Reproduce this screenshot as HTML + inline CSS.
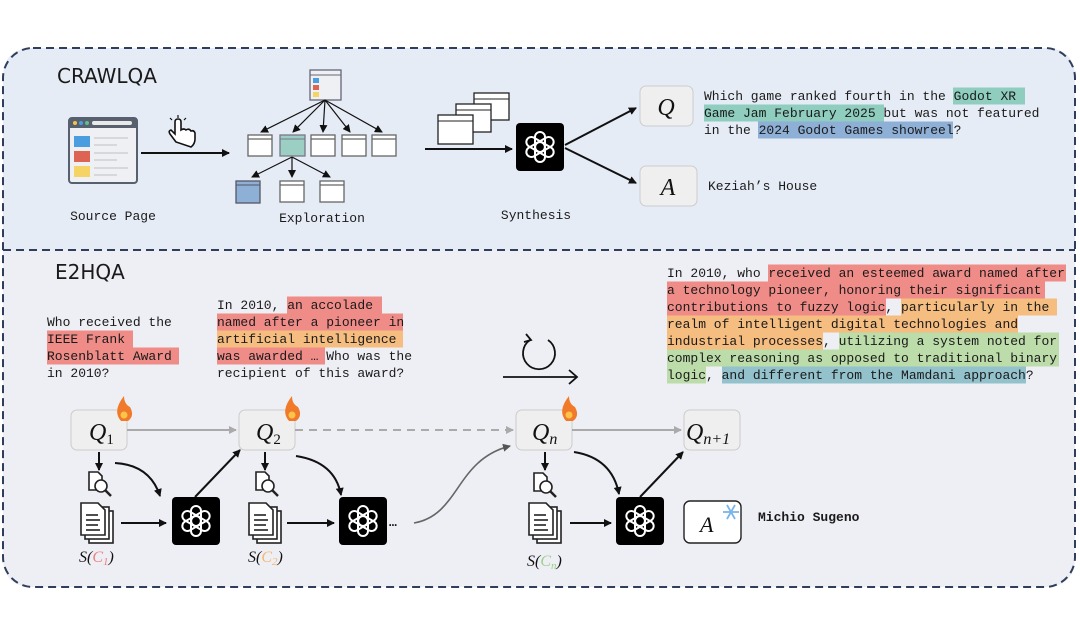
<!DOCTYPE html>
<html><head><meta charset="utf-8"><style>
html,body{margin:0;padding:0;background:#fff;}
svg{display:block}
.m{font-family:"Liberation Mono",monospace;font-size:13px;fill:#1a1a1a}
.l{font-family:"DejaVu Sans","Liberation Sans",sans-serif;fill:#1a1a1a}
.q{font-family:"Liberation Serif",serif;font-style:italic;fill:#111}
</style></head><body>
<svg width="1080" height="635" viewBox="0 0 1080 635" xmlns="http://www.w3.org/2000/svg">
<defs>
<marker id="ah" markerWidth="8" markerHeight="8" refX="7" refY="4" orient="auto" markerUnits="userSpaceOnUse"><path d="M0,0 L8,4 L0,8z" fill="#111"/></marker>
<marker id="ag" markerWidth="8" markerHeight="8" refX="7" refY="4" orient="auto" markerUnits="userSpaceOnUse"><path d="M0,0 L8,4 L0,8z" fill="#aaa"/></marker>
<marker id="ad" markerWidth="8" markerHeight="8" refX="7" refY="4" orient="auto" markerUnits="userSpaceOnUse"><path d="M0,0 L8,4 L0,8z" fill="#555"/></marker>
<g id="oai">
<rect x="0" y="0" width="48" height="48" rx="4" fill="#000"/>
<g transform="translate(24,24)" fill="none" stroke="#fff" stroke-width="2">
<rect x="-5" y="-15" width="10" height="20" rx="5"/>
<rect x="-5" y="-15" width="10" height="20" rx="5" transform="rotate(60)"/>
<rect x="-5" y="-15" width="10" height="20" rx="5" transform="rotate(120)"/>
<rect x="-5" y="-15" width="10" height="20" rx="5" transform="rotate(180)"/>
<rect x="-5" y="-15" width="10" height="20" rx="5" transform="rotate(240)"/>
<rect x="-5" y="-15" width="10" height="20" rx="5" transform="rotate(300)"/>
</g></g>
<g id="win"><rect x="0" y="0" width="24" height="21" fill="#fff" stroke="#666" stroke-width="1.3"/><line x1="0" y1="4" x2="24" y2="4" stroke="#666" stroke-width="1.3"/></g>
<g id="docs" fill="#fff" stroke="#222" stroke-width="1.6">
<rect x="8" y="8" width="24" height="32"/><rect x="4" y="4" width="24" height="32"/><path d="M0,0 h17 l7,7 v25 h-24z"/>
<line x1="5" y1="12" x2="17" y2="12"/><line x1="5" y1="17" x2="19" y2="17"/><line x1="5" y1="22" x2="17" y2="22"/><line x1="5" y1="27" x2="19" y2="27"/></g>
<g id="srch" fill="none" stroke="#222" stroke-width="1.6">
<path d="M0,0 h9 l4,4 v14 h-13z" fill="#fff"/><circle cx="12" cy="14" r="6" fill="#fff"/><line x1="16" y1="18" x2="22" y2="24" stroke-width="2.5"/></g>
</defs>

<path d="M33,48 H1045 Q1075,48 1075,78 V250 H3 V78 Q3,48 33,48z" fill="#e6ecf6"/>
<path d="M3,250 H1075 V557 Q1075,587 1045,587 H33 Q3,587 3,557z" fill="#eeeef5"/>
<rect x="3" y="48" width="1072" height="539" rx="30" fill="none" stroke="#2f3e5c" stroke-width="2" stroke-dasharray="8,5"/>
<line x1="3" y1="250" x2="1075" y2="250" stroke="#2f3e5c" stroke-width="2" stroke-dasharray="8,5"/>

<text x="57" y="83" class="l" font-size="20">CRAWLQA</text>
<text x="55" y="279" class="l" font-size="20">E2HQA</text>

<rect x="69" y="118" width="68" height="65" rx="3" fill="#eef0f3" stroke="#56606e" stroke-width="2"/>
<rect x="69" y="118" width="68" height="10" fill="#56606e"/>
<circle cx="75" cy="123" r="2" fill="#f4c542"/><circle cx="81" cy="123" r="2" fill="#4a9ee0"/><circle cx="87" cy="123" r="2" fill="#5cc08a"/>
<rect x="92" y="121" width="40" height="4" rx="2" fill="#e8e8e8"/>
<rect x="74" y="136" width="16" height="11" fill="#4a9ee0"/><rect x="74" y="151" width="16" height="11" fill="#dd6452"/><rect x="74" y="166" width="16" height="11" fill="#f6d365"/>
<g stroke="#d6d8dc" stroke-width="2"><line x1="94" y1="138" x2="128" y2="138"/><line x1="94" y1="145" x2="117" y2="145"/><line x1="94" y1="153" x2="128" y2="153"/><line x1="94" y1="160" x2="117" y2="160"/><line x1="94" y1="168" x2="128" y2="168"/><line x1="94" y1="175" x2="117" y2="175"/></g>
<text x="113" y="220" class="m" text-anchor="middle" font-size="13">Source Page</text>
<line x1="141" y1="153" x2="229" y2="153" stroke="#111" stroke-width="2" marker-end="url(#ah)"/>
<g fill="#fff" stroke="#111" stroke-width="1.6"><path d="M176,142 l-6,-8 q-2,-3 1,-4 l4,4 v-12 q0,-3 3,-3 q3,0 3,3 v8 q3,-2 5,0 q3,-2 5,1 q3,-1 4,2 v6 q0,5 -4,8 z"/></g>
<g stroke="#111" stroke-width="1.2"><line x1="178" y1="118" x2="178" y2="115"/><line x1="172" y1="120" x2="170" y2="118"/><line x1="184" y1="120" x2="186" y2="118"/></g>

<rect x="310" y="70" width="31" height="30" fill="#eef0f3" stroke="#667" stroke-width="1.3"/>
<line x1="310" y1="75" x2="341" y2="75" stroke="#667"/>
<rect x="313" y="78" width="6" height="5" fill="#4a9ee0"/><rect x="313" y="85" width="6" height="5" fill="#dd6452"/><rect x="313" y="92" width="6" height="5" fill="#f6d365"/>
<g stroke="#111" stroke-width="1.2" marker-end="url(#ah)">
<line x1="325" y1="100" x2="261" y2="132"/><line x1="325" y1="100" x2="293" y2="132"/><line x1="325" y1="100" x2="323" y2="132"/><line x1="325" y1="100" x2="350" y2="132"/><line x1="325" y1="100" x2="382" y2="132"/>
<line x1="292" y1="157" x2="252" y2="177"/><line x1="292" y1="157" x2="292" y2="177"/><line x1="292" y1="157" x2="330" y2="177"/>
</g>
<use href="#win" x="248" y="135"/>
<rect x="280" y="135" width="25" height="21" fill="#9ccfc3" stroke="#778" stroke-width="1.3"/><line x1="280" y1="139" x2="305" y2="139" stroke="#778"/>
<use href="#win" x="311" y="135"/><use href="#win" x="342" y="135"/><use href="#win" x="372" y="135"/>
<rect x="236" y="181" width="24" height="22" fill="#8fb0d6" stroke="#556" stroke-width="1.3"/><line x1="236" y1="185" x2="260" y2="185" stroke="#556"/>
<use href="#win" x="280" y="181"/><use href="#win" x="320" y="181"/>
<text x="322" y="222" class="m" text-anchor="middle" font-size="13">Exploration</text>

<rect x="474" y="93" width="35" height="27" fill="#fff" stroke="#222" stroke-width="1.3"/><line x1="474" y1="99" x2="509" y2="99" stroke="#222"/>
<rect x="456" y="104" width="35" height="28" fill="#fff" stroke="#222" stroke-width="1.3"/><line x1="456" y1="110" x2="491" y2="110" stroke="#222"/>
<rect x="438" y="115" width="35" height="29" fill="#fff" stroke="#222" stroke-width="1.3"/><line x1="438" y1="121" x2="473" y2="121" stroke="#222"/>
<line x1="425" y1="149" x2="512" y2="149" stroke="#111" stroke-width="2" marker-end="url(#ah)"/>
<use href="#oai" x="516" y="123"/>
<text x="536" y="219" class="m" text-anchor="middle" font-size="13">Synthesis</text>
<line x1="565" y1="145" x2="636" y2="108" stroke="#111" stroke-width="2" marker-end="url(#ah)"/>
<line x1="565" y1="148" x2="636" y2="183" stroke="#111" stroke-width="2" marker-end="url(#ah)"/>
<rect x="640" y="86" width="53" height="40" rx="6" fill="#efefef" stroke="#ccc"/>
<text x="666" y="115" class="q" font-size="24" text-anchor="middle">Q</text>
<rect x="640" y="166" width="57" height="40" rx="6" fill="#efefef" stroke="#ccc"/>
<text x="668" y="195" class="q" font-size="24" text-anchor="middle">A</text>
<rect x="953" y="87.5" width="72" height="17" fill="#8fcdbf"/>
<rect x="704" y="104.5" width="180" height="17" fill="#8fcdbf"/>
<rect x="758" y="121.5" width="195" height="17" fill="#8fb0d6"/>
<text class="m"><tspan x="704" y="100">Which game ranked fourth in the Godot XR</tspan><tspan x="704" y="117">Game Jam February 2025 but was not featured</tspan><tspan x="704" y="134">in the 2024 Godot Games showreel?</tspan></text>
<text x="708" y="190" class="m">Keziah’s House</text>

<rect x="47" y="330.5" width="86" height="17" fill="#f08c88"/>
<rect x="47" y="347.5" width="132" height="17" fill="#f08c88"/>
<text class="m"><tspan x="47" y="326">Who received the</tspan><tspan x="47" y="343">IEEE Frank</tspan><tspan x="47" y="360">Rosenblatt Award</tspan><tspan x="47" y="377">in 2010?</tspan></text>
<rect x="287" y="296.5" width="95" height="17" fill="#f08c88"/>
<rect x="217" y="313.5" width="186" height="17" fill="#f08c88"/>
<rect x="217" y="330.5" width="186" height="17" fill="#f5bd80"/>
<rect x="217" y="347.5" width="108" height="17" fill="#f08c88"/>
<text class="m"><tspan x="217" y="309">In 2010, an accolade</tspan><tspan x="217" y="326">named after a pioneer in</tspan><tspan x="217" y="343">artificial intelligence</tspan><tspan x="217" y="360">was awarded … Who was the</tspan><tspan x="217" y="377">recipient of this award?</tspan></text>

<rect x="768" y="264.5" width="298" height="17" fill="#f08c88"/>
<rect x="667" y="281.5" width="378" height="17" fill="#f08c88"/>
<rect x="667" y="298.5" width="219" height="17" fill="#f08c88"/>
<rect x="901" y="298.5" width="156" height="17" fill="#f5bd80"/>
<rect x="667" y="315.5" width="351" height="17" fill="#f5bd80"/>
<rect x="667" y="332.5" width="156" height="17" fill="#f5bd80"/>
<rect x="839" y="332.5" width="220" height="17" fill="#bcdcaa"/>
<rect x="667" y="349.5" width="392" height="17" fill="#bcdcaa"/>
<rect x="667" y="366.5" width="39" height="17" fill="#bcdcaa"/>
<rect x="722" y="366.5" width="304" height="17" fill="#93c2cc"/>
<text class="m"><tspan x="667" y="277">In 2010, who received an esteemed award named after</tspan><tspan x="667" y="294">a technology pioneer, honoring their significant</tspan><tspan x="667" y="311">contributions to fuzzy logic, particularly in the</tspan><tspan x="667" y="328">realm of intelligent digital technologies and</tspan><tspan x="667" y="345">industrial processes, utilizing a system noted for</tspan><tspan x="667" y="362">complex reasoning as opposed to traditional binary</tspan><tspan x="667" y="379">logic, and different from the Mamdani approach?</tspan></text>

<path d="M530,340 A16,16 0 1 0 548,340" fill="none" stroke="#111" stroke-width="1.8"/>
<path d="M526,334 l5,6 l-7,2" fill="none" stroke="#111" stroke-width="1.8"/>
<line x1="503" y1="377" x2="577" y2="377" stroke="#111" stroke-width="1.8"/>
<path d="M569,370 l8,7 l-8,7" fill="none" stroke="#111" stroke-width="1.8"/>

<g fill="#efefef" stroke="#ccc">
<rect x="71" y="410" width="56" height="40" rx="6"/><rect x="239" y="410" width="56" height="40" rx="6"/>
<rect x="516" y="410" width="56" height="40" rx="6"/><rect x="684" y="410" width="56" height="40" rx="6"/></g>
<text x="89" y="440" class="q" font-size="24">Q<tspan font-size="15" font-style="normal" dy="4">1</tspan></text>
<text x="256" y="440" class="q" font-size="24">Q<tspan font-size="15" font-style="normal" dy="4">2</tspan></text>
<text x="532" y="440" class="q" font-size="24">Q<tspan font-size="16" dy="4">n</tspan></text>
<text x="686" y="440" class="q" font-size="24">Q<tspan font-size="16" dy="4">n+1</tspan></text>
<g fill="#f07a2a"><path d="M121,421 q-9,-10 3,-25 q0,8 6,11 q5,9 -2,14z"/><path d="M289,421 q-9,-10 3,-25 q0,8 6,11 q5,9 -2,14z"/><path d="M566,421 q-9,-10 3,-25 q0,8 6,11 q5,9 -2,14z"/></g>
<g fill="#fbc34a"><circle cx="124" cy="415" r="3.5"/><circle cx="292" cy="415" r="3.5"/><circle cx="569" cy="415" r="3.5"/></g>

<line x1="127" y1="430" x2="236" y2="430" stroke="#aaa" stroke-width="2" marker-end="url(#ag)"/>
<line x1="295" y1="430" x2="513" y2="430" stroke="#aaa" stroke-width="2" stroke-dasharray="8,6" marker-end="url(#ag)"/>
<line x1="572" y1="430" x2="681" y2="430" stroke="#aaa" stroke-width="2" marker-end="url(#ag)"/>

<g stroke="#111" stroke-width="2" fill="none" marker-end="url(#ah)">
<line x1="99" y1="452" x2="99" y2="470"/><line x1="265" y1="452" x2="265" y2="470"/><line x1="545" y1="452" x2="545" y2="470"/>
<line x1="121" y1="523" x2="166" y2="523"/><line x1="287" y1="523" x2="334" y2="523"/><line x1="570" y1="523" x2="611" y2="523"/>
<path d="M115,463 Q150,465 160,496"/><path d="M296,456 Q335,462 341,495"/><path d="M574,452 Q612,458 619,494"/>
<line x1="195" y1="497" x2="240" y2="450"/><line x1="640" y1="497" x2="683" y2="452"/>
</g>
<path d="M414,523 C460,515 455,460 510,446" fill="none" stroke="#666" stroke-width="1.6" marker-end="url(#ad)"/>
<text x="389" y="526" class="m" font-size="14" font-weight="bold">…</text>

<use href="#srch" x="89" y="472"/><use href="#srch" x="256" y="472"/><use href="#srch" x="534" y="473"/>
<use href="#docs" x="81" y="503"/><use href="#docs" x="249" y="503"/><use href="#docs" x="529" y="503"/>
<use href="#oai" x="172" y="497"/><use href="#oai" x="339" y="497"/><use href="#oai" x="616" y="497"/>

<text x="79" y="562" class="q" font-size="16">S(<tspan fill="#f08080">C</tspan><tspan fill="#f08080" font-size="11" dy="3">1</tspan><tspan dy="-3">)</tspan></text>
<text x="248" y="562" class="q" font-size="16">S(<tspan fill="#f5b870">C</tspan><tspan fill="#f5b870" font-size="11" dy="3">2</tspan><tspan dy="-3">)</tspan></text>
<text x="527" y="566" class="q" font-size="16">S(<tspan fill="#9cd08c">C</tspan><tspan fill="#9cd08c" font-size="11" dy="3">n</tspan><tspan dy="-3">)</tspan></text>

<rect x="684" y="501" width="57" height="42" rx="6" fill="#fff" stroke="#222" stroke-width="1.4"/>
<text x="700" y="532" class="q" font-size="22">A</text>
<g stroke="#7ab4ea" stroke-width="1.8" transform="translate(731,512)"><line x1="-8" y1="0" x2="8" y2="0"/><line x1="-4" y1="-7" x2="4" y2="7"/><line x1="4" y1="-7" x2="-4" y2="7"/></g>
<text x="758" y="521" class="m" font-size="12" font-weight="bold">Michio Sugeno</text>
</svg>
</body></html>
